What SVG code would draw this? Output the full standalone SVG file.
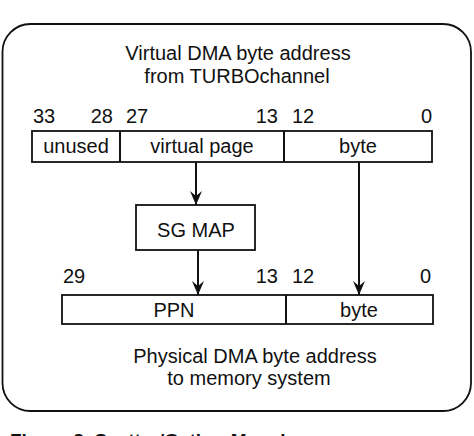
<svg xmlns="http://www.w3.org/2000/svg" width="474" height="436" viewBox="0 0 474 436">
<style>
text{font-family:"Liberation Sans",Arial,sans-serif;font-size:20px;fill:#111}
.c{text-anchor:middle}
.e{text-anchor:end}
.box{fill:#fff;stroke:#111;stroke-width:1.8}
.ln{stroke:#111;stroke-width:2;fill:none}
.cap{font-weight:bold;font-size:19px}
</style>
<defs>
<marker id="ah" viewBox="0 0 14 12" refX="14" refY="6" markerWidth="14" markerHeight="12" markerUnits="userSpaceOnUse" orient="auto">
<path d="M0,0 L14,6 L0,12 L5,6 Z" fill="#111"/>
</marker>
</defs>
<rect width="474" height="436" fill="#fff"/>
<g id="frame">
<rect x="2.5" y="24" width="468.5" height="387" rx="28" ry="28" fill="none" stroke="#111" stroke-width="1.8"/>
</g>
<g id="title">
<text class="c" x="238" y="60">Virtual DMA byte address</text>
<text class="c" x="237" y="83">from TURBOchannel</text>
</g>
<g id="vaddr">
<rect class="box" x="32" y="131" width="400" height="31"/>
<line class="ln" x1="120" y1="131" x2="120" y2="162"/>
<line class="ln" x1="284" y1="131" x2="284" y2="162"/>
<text class="c" x="76" y="153">unused</text>
<text class="c" x="202" y="153">virtual page</text>
<text class="c" x="358" y="153">byte</text>
<text x="33" y="123">33</text>
<text class="e" x="113" y="123">28</text>
<text x="126" y="123">27</text>
<text class="e" x="278" y="123">13</text>
<text x="292" y="123">12</text>
<text class="e" x="432" y="123">0</text>
</g>
<g id="sgmap">
<rect class="box" x="136" y="205" width="119" height="45"/>
<text class="c" x="196" y="237">SG MAP</text>
</g>
<g id="paddr">
<rect class="box" x="62" y="295" width="371" height="29"/>
<line class="ln" x1="286" y1="295" x2="286" y2="324"/>
<text class="c" x="174" y="317">PPN</text>
<text class="c" x="359" y="317">byte</text>
<text x="63" y="283">29</text>
<text class="e" x="278" y="283">13</text>
<text x="292" y="283">12</text>
<text class="e" x="431" y="283">0</text>
</g>
<g id="footer">
<text class="c" x="255" y="363">Physical DMA byte address</text>
<text class="c" x="249" y="385">to memory system</text>
</g>
<g id="connectors">
<line class="ln" x1="196" y1="162" x2="196" y2="205" marker-end="url(#ah)"/>
<line class="ln" x1="198" y1="250" x2="198" y2="295" marker-end="url(#ah)"/>
<line class="ln" x1="359" y1="162" x2="359" y2="295" marker-end="url(#ah)"/>
</g>
<text class="cap" x="10" y="447">Figure 8. Scatter/Gather Mapping</text>
</svg>
